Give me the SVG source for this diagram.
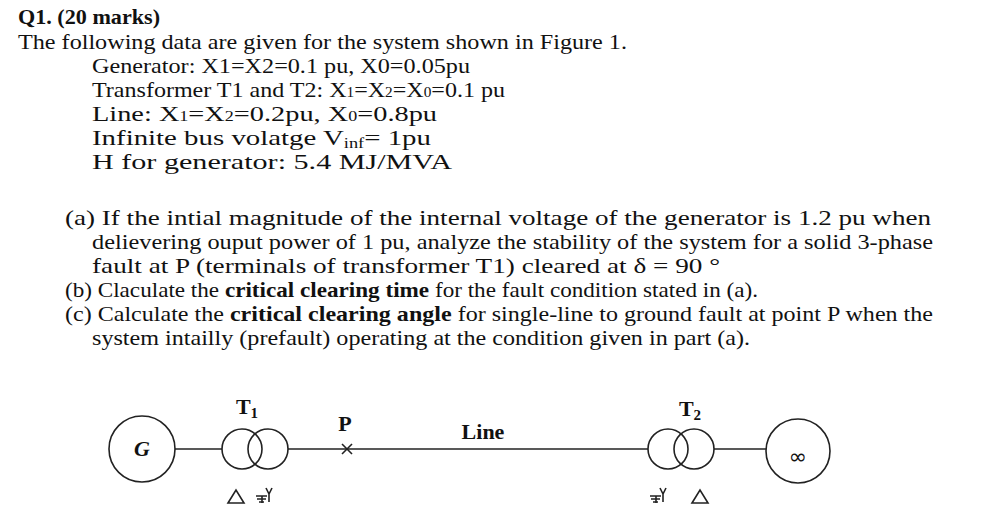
<svg xmlns="http://www.w3.org/2000/svg" width="995" height="525" viewBox="0 0 995 525">
<style>
text{font-family:"Liberation Serif",serif;font-size:22px;fill:#111}
.b{font-weight:bold}
.s{fill:none;stroke:#222;stroke-width:1.6}
</style>
<rect width="995" height="525" fill="#fff"/>
<text x="18" y="24" class="b" textLength="142" lengthAdjust="spacingAndGlyphs">Q1. (20 marks)</text>
<text x="18" y="49" textLength="609" lengthAdjust="spacingAndGlyphs">The following data are given for the system shown in Figure 1.</text>
<text x="92" y="73" textLength="378" lengthAdjust="spacingAndGlyphs">Generator: X1=X2=0.1 pu, X0=0.05pu</text>
<text x="92" y="97" textLength="413" lengthAdjust="spacingAndGlyphs">Transformer T1 and T2: X<tspan font-size="14">1</tspan>=X<tspan font-size="14">2</tspan>=X<tspan font-size="14">0</tspan>=0.1 pu</text>
<text x="92" y="121" textLength="345" lengthAdjust="spacingAndGlyphs">Line: X<tspan font-size="14">1</tspan>=X<tspan font-size="14">2</tspan>=0.2pu,  X<tspan font-size="14">0</tspan>=0.8pu</text>
<text x="92" y="145" textLength="339" lengthAdjust="spacingAndGlyphs">Infinite bus volatge V<tspan font-size="14" dy="3">inf</tspan><tspan dy="-3">= 1pu</tspan></text>
<text x="92" y="169" textLength="360" lengthAdjust="spacingAndGlyphs">H for generator: 5.4 MJ/MVA</text>
<text x="65" y="225" textLength="866" lengthAdjust="spacingAndGlyphs">(a) If the intial magnitude of the internal voltage of the generator is 1.2 pu when</text>
<text x="92" y="249" textLength="841" lengthAdjust="spacingAndGlyphs">delievering ouput power of 1 pu, analyze the stability of the system for a solid 3-phase</text>
<text x="92" y="273" textLength="628" lengthAdjust="spacingAndGlyphs">fault at P (terminals of transformer T1) cleared at δ = 90 °</text>
<text x="65" y="297" textLength="693" lengthAdjust="spacingAndGlyphs">(b) Claculate the <tspan class="b">critical clearing time</tspan> for the fault condition stated in (a).</text>
<text x="65" y="321" textLength="868" lengthAdjust="spacingAndGlyphs">(c) Calculate the <tspan class="b">critical clearing angle</tspan> for single-line to ground fault at point P when the</text>
<text x="92" y="345" textLength="658" lengthAdjust="spacingAndGlyphs">system intailly (prefault) operating at the condition given in part (a).</text>
<g id="connectors">
<line class="s" x1="175" y1="449" x2="222" y2="449"/>
<line class="s" x1="288" y1="449" x2="648" y2="449"/>
<line class="s" x1="714" y1="449" x2="766" y2="449"/>
</g>
<g id="G"><circle class="s" cx="142" cy="449" r="33"/><text x="142" y="456" class="b" font-style="italic" text-anchor="middle" font-size="20">G</text></g>
<g id="T1"><circle class="s" cx="242" cy="449" r="20"/><circle class="s" cx="268" cy="449" r="20"/>
<text x="247" y="414" class="b" text-anchor="middle" font-size="23">T<tspan font-size="15" dy="4">1</tspan></text>
<path class="s" d="M228 503 L236 490 L244 503 Z" stroke-width="1.4"/>
<path class="s" stroke-width="1.2" d="M256 496 h11 M257 499 h9 M259 502 h5 M262 496 v7 M262 496 l4 0 M266 488 l3 6 l3 -6 M269 494 v8"/>
</g>
<g id="P"><line class="s" x1="342" y1="444" x2="352" y2="454"/><line class="s" x1="352" y1="444" x2="342" y2="454"/>
<text x="345" y="431" class="b" text-anchor="middle" font-size="23">P</text></g>
<g id="Line"><text x="483" y="439" class="b" text-anchor="middle" font-size="23">Line</text></g>
<g id="T2"><circle class="s" cx="668" cy="449" r="20"/><circle class="s" cx="694" cy="449" r="20"/>
<text x="690" y="416" class="b" text-anchor="middle" font-size="23">T<tspan font-size="15" dy="4">2</tspan></text>
<path class="s" stroke-width="1.2" d="M650 496 h11 M651 499 h9 M653 502 h5 M656 496 v7 M656 496 l4 0 M660 488 l3 6 l3 -6 M663 494 v8"/>
<path class="s" d="M692 503 L700 490 L708 503 Z" stroke-width="1.4"/>
</g>
<g id="Inf"><circle class="s" cx="798" cy="451" r="32"/><text x="798" y="464" text-anchor="middle" font-size="36" style="font-family:'DejaVu Sans',sans-serif">∞</text></g>
</svg>
